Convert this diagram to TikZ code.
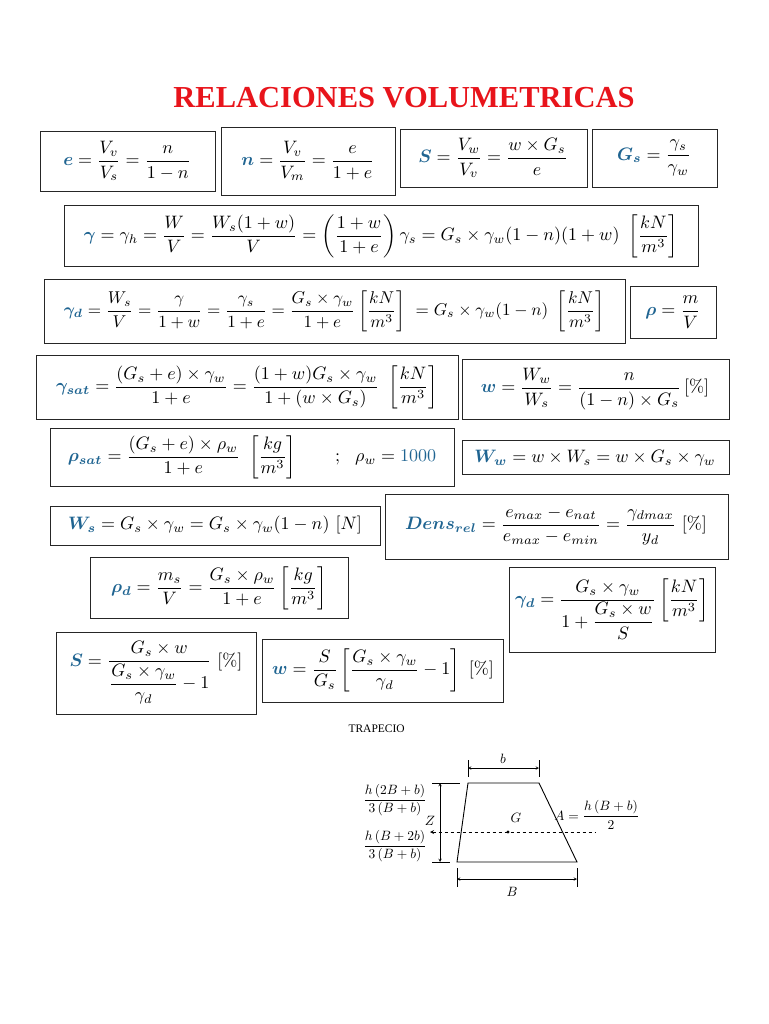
\documentclass[tikz,border=0pt]{standalone}
\usepackage{amsmath,bm}
\usepackage{fontspec}
\newfontfamily\titlefont{Liberation Serif}
\definecolor{vb}{HTML}{1F6491}
\definecolor{tred}{HTML}{E8141B}
\newcommand{\bv}[1]{\textcolor{vb}{\bm{#1}}}
\begin{document}
\begin{tikzpicture}[x=1pt,y=-1pt,
  bx/.style={draw=black!85,line width=0.9pt},
  fm/.style={inner sep=0pt,scale=1.8,transform shape},
  tr/.style={line width=0.9pt},
  dim/.style={line width=0.5pt},
  tl/.style={inner sep=1pt,scale=1.35,transform shape}]
\useasboundingbox (0,0) rectangle (768,1024);
\node[font=\titlefont\bfseries\fontsize{30.5}{33}\selectfont,text=tred] (title) at (404,98) {RELACIONES VOLUMETRICAS};

\draw[bx] (40,131) rectangle (215,191);
\node[fm] (f1) at (127,161) {$\bv{e}=\dfrac{V_v}{V_s}=\dfrac{n}{1-n}$};
\draw[bx] (221,127) rectangle (395,195);
\node[fm] (f2) at (308,161) {$\bv{n}=\dfrac{V_v}{V_m}=\dfrac{e}{1+e}$};
\draw[bx] (400,129) rectangle (587,187);
\node[fm] (f3) at (493,158) {$\bv{S}=\dfrac{V_w}{V_v}=\dfrac{w\times G_s}{e}$};
\draw[bx] (592,129) rectangle (717,187);
\node[fm] (f4) at (654,158) {$\bv{G_s}=\dfrac{\gamma_s}{\gamma_w}$};

\draw[bx] (64,205) rectangle (698,266);
\node[fm] (f5) at (381,236) {$\bv{\gamma}=\gamma_h=\dfrac{W}{V}=\dfrac{W_s(1+w)}{V}=\left(\dfrac{1+w}{1+e}\right)\gamma_s=G_s\times\gamma_w(1-n)(1+w)\ \left[\dfrac{kN}{m^3}\right]$};

\draw[bx] (44,279) rectangle (625,343);
\node[fm,scale=0.95] (f6) at (334,311) {$\bv{\gamma_d}=\dfrac{W_s}{V}=\dfrac{\gamma}{1+w}=\dfrac{\gamma_s}{1+e}=\dfrac{G_s\times\gamma_w}{1+e}\left[\dfrac{kN}{m^3}\right]\ =G_s\times\gamma_w(1-n)\ \left[\dfrac{kN}{m^3}\right]$};
\draw[bx] (630,286) rectangle (716,338);
\node[fm] (f7) at (673,312) {$\bv{\rho}=\dfrac{m}{V}$};

\draw[bx] (36,355) rectangle (458,419);
\node[fm] (f8) at (247,387) {$\bv{\gamma_{sat}}=\dfrac{(G_s+e)\times\gamma_w}{1+e}=\dfrac{(1+w)G_s\times\gamma_w}{1+(w\times G_s)}\ \left[\dfrac{kN}{m^3}\right]$};
\draw[bx] (462,359) rectangle (729,419);
\node[fm] (f9) at (595,389) {$\bv{w}=\dfrac{W_w}{W_s}=\dfrac{n}{(1-n)\times G_s}\,[\%]$};

\draw[bx] (50,428) rectangle (454,486);
\node[fm] (f10) at (252,457) {$\bv{\rho_{sat}}=\dfrac{(G_s+e)\times\rho_w}{1+e}\ \left[\dfrac{kg}{m^3}\right]\qquad;\ \ \rho_w=\textcolor{vb}{1000}$};
\draw[bx] (462,440) rectangle (729,474);
\node[fm] (f11) at (595,458) {$\bv{W_w}=w\times W_s=w\times G_s\times\gamma_w$};

\draw[bx] (50,506) rectangle (380,545);
\node[fm] (f12) at (215,525) {$\bv{W_s}=G_s\times\gamma_w=G_s\times\gamma_w(1-n)\ [N]$};
\draw[bx] (385,494) rectangle (728,559);
\node[fm] (f13) at (556,526) {$\bv{Dens_{rel}}=\dfrac{e_{max}-e_{nat}}{e_{max}-e_{min}}=\dfrac{\gamma_{dmax}}{y_d}\ [\%]$};

\draw[bx] (90,557) rectangle (348,618);
\node[fm] (f14) at (219,588) {$\bv{\rho_d}=\dfrac{m_s}{V}=\dfrac{G_s\times\rho_w}{1+e}\left[\dfrac{kg}{m^3}\right]$};
\draw[bx] (509,567) rectangle (715,652);
\node[fm] (f15) at (612,609) {$\bv{\gamma_d}=\dfrac{G_s\times\gamma_w}{1+\dfrac{G_s\times w}{S}}\left[\dfrac{kN}{m^3}\right]$};

\draw[bx] (56,632) rectangle (256,714);
\node[fm] (f16) at (156,673) {$\bv{S}=\dfrac{G_s\times w}{\dfrac{G_s\times\gamma_w}{\gamma_d}-1}\ [\%]$};
\draw[bx] (262,639) rectangle (503,702);
\node[fm] (f17) at (383,670) {$\bv{w}=\dfrac{S}{G_s}\left[\dfrac{G_s\times\gamma_w}{\gamma_d}-1\right]\ [\%]$};

% trapezoid
\node[font=\titlefont\fontsize{11.5}{13}\selectfont,anchor=west] (trap) at (345,729) {TRAPECIO};
\coordinate (tl) at (468,783); \coordinate (trr) at (539,783);
\coordinate (bl) at (457,862); \coordinate (brr) at (577,862);
\draw[tr] (tl) -- (trr) -- (brr) -- (bl) -- cycle;
\draw[dim] (468,760) -- (468,777) (539,760) -- (539,777);
\draw[dim,<->,>=stealth] (468,768) -- (539,768);
\node[tl] (lb) at (503,759) {$b$};
\draw[dim] (457,868) -- (457,887) (577,868) -- (577,887);
\draw[dim,<->,>=stealth] (457,879) -- (577,879);
\node[tl] (lB) at (512,892) {$B$};
\draw[dim] (432,783) -- (460,783) (432,862) -- (450,862);
\draw[dim,<->,>=stealth] (440,783) -- (440,862);
\node[tl] (lz) at (430,821) {$Z$};
\coordinate (dl) at (430,832); \coordinate (dr) at (595,832);
\draw[dim,dashed,line width=0.8pt,<-,>=stealth] (dl) -- (dr);
\fill (508,832) circle (1.6);
\node[tl] (lg) at (516,818) {$G$};
\node[tl] (la) at (597,815) {$A=\dfrac{h\,(B+b)}{2}$};
\node[tl] (lf1) at (395,800) {$\dfrac{h\,(2B+b)}{3\,(B+b)}$};
\node[tl] (lf2) at (395,846) {$\dfrac{h\,(B+2b)}{3\,(B+b)}$};
\end{tikzpicture}
\end{document}
